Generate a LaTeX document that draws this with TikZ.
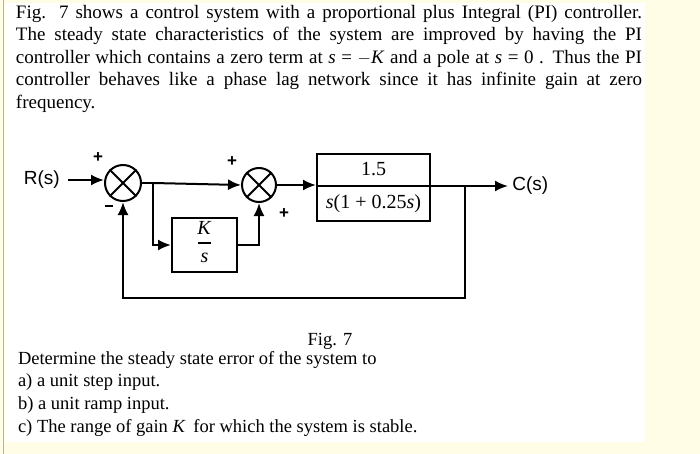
\documentclass[tikz,border=0pt]{standalone}
\usepackage{fontspec}
\setmainfont{Liberation Serif}
\newfontfamily\arial{Liberation Sans}
\usetikzlibrary{arrows.meta}
\definecolor{bgy}{HTML}{FFFDE6}
\begin{document}
\begin{tikzpicture}[x=1pt,y=-1pt,line width=2pt,
  sumj/.style={draw,circle,minimum size=36pt,inner sep=0pt},
  blk/.style={draw,inner sep=0pt},
  wire/.style={},
  arr/.style={-{Latex[length=13pt,width=11pt]}},
  lbl/.style={font=\arial\fontsize{19}{19}\selectfont},
  sgn/.style={font=\arial\bfseries\fontsize{17}{17}\selectfont,inner sep=0pt}]
\useasboundingbox (0,0) rectangle (700,454);
\fill[bgy] (0,0) rectangle (700,454);
\fill[white] (5,3) rectangle (645,442);
\draw[gray!60,line width=0.6pt] (3,0) -- (3,454);
\node[anchor=north west,text width=626pt,align=justify,inner sep=0pt,font=\fontsize{19}{22.5}\selectfont] (para) at (15,4)
{Fig. 7 shows a control system with a proportional plus Integral (PI) controller.\linebreak
The steady state characteristics of the system are improved by having the PI\linebreak
controller which contains a zero term at \textit{s} = $-$\textit{K} and a pole at \textit{s} = 0 . Thus the PI\linebreak
controller behaves like a phase lag network since it has infinite gain at zero\linebreak
frequency.};
% diagram
\node[sumj] (s1) at (123,183) {};
\draw (s1.north west) -- (s1.south east) (s1.north east) -- (s1.south west);
\node[sumj,minimum size=34pt] (s2) at (259,185) {};
\draw (s2.north west) -- (s2.south east) (s2.north east) -- (s2.south west);
\node[blk,minimum width=113pt,minimum height=67pt] (g) at (373.5,187.5) {};
\node (num) at (373.5,169) {\fontsize{20}{20}\selectfont 1.5};
\node (den) at (373.5,204) {\fontsize{20}{20}\selectfont\textit{s}(1 + 0.25\textit{s})};
\draw[line width=1.2pt] (318,186) -- (429,186);
\node[blk,minimum width=65pt,minimum height=54pt] (k) at (204.5,245) {};
\node (kn) at (204.5,228) {\fontsize{20}{20}\selectfont\textit{K}};
\node (kd) at (204.5,258) {\fontsize{20}{20}\selectfont\textit{s}};
\draw[line width=1.2pt] (198,243) -- (211,243);
\node[lbl,anchor=east] (r) at (64,180) {R(s)};
\node[lbl,anchor=west] (c) at (508,186) {C(s)};
\coordinate (rin) at (68,180);
\coordinate (br) at (153,183);
\coordinate (tap) at (465,186);
\draw[arr] (rin) -- (s1.west|-rin);
\draw[wire] (s1.east) -- (br);
\draw[arr] (br) -- (s2.west);
\draw[arr] (br) |- (k.west);
\draw[arr] (k.east) -| (s2.south);
\draw[arr] (s2.east) -- (g.west|-s2.east);
\draw[arr] (g.east|-tap) -- (c.west);
\draw[arr] (tap) |- (123,298) -- (s1.south);
\node[sgn] at (98,158) {+};
\draw[line width=2.5pt] (105,206) -- (113,206);
\node[sgn] at (232,162) {+};
\node[sgn] at (284,214) {+};
\node[font=\fontsize{18.5}{18.5}\selectfont] (fig) at (330,341) {Fig. 7};
\node[anchor=north west,align=left,inner sep=0pt,font=\fontsize{18.5}{22.8}\selectfont] (q) at (17,350)
{Determine the steady state error of the system to\\
a) a unit step input.\\
b) a unit ramp input.\\
c) The range of gain \textit{K}\, for which the system is stable.};
\end{tikzpicture}
\end{document}
